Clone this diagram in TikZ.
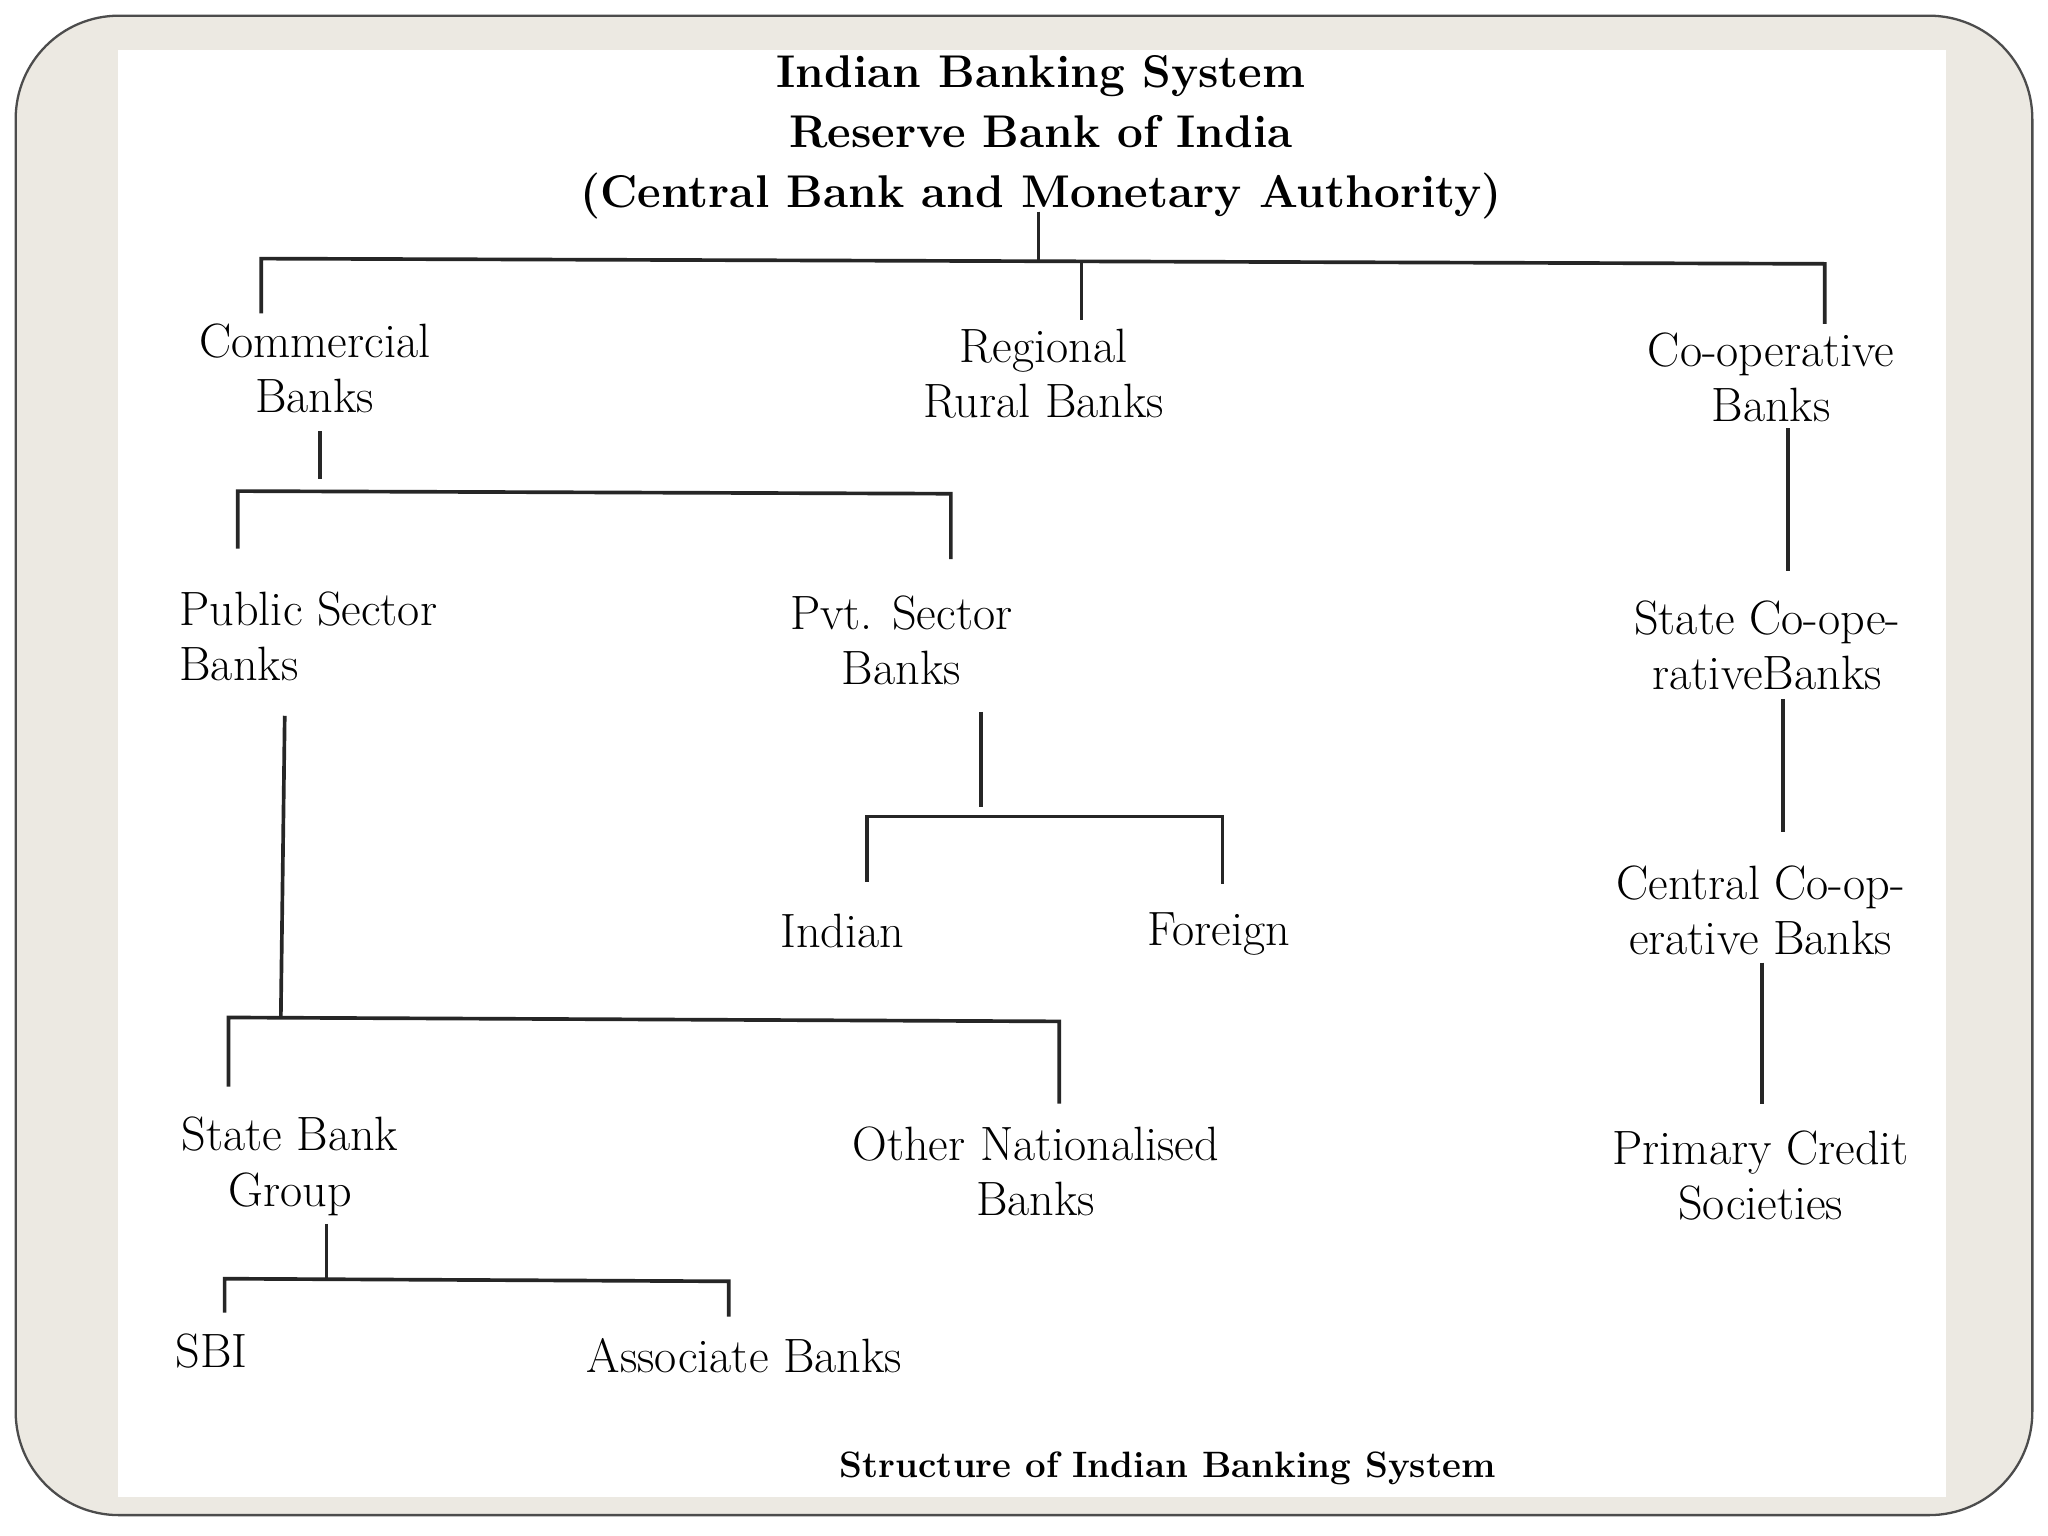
\documentclass[tikz,border=0pt]{standalone}
\begin{document}
\begin{tikzpicture}[x=0.02cm,y=-0.02cm,
  t/.style={font=\fontsize{21}{24}\selectfont,align=center,inner sep=0pt},
  ln/.style={line width=1.6pt,black!85}]
\useasboundingbox (0,0) rectangle (1568,1176);
\fill[white] (0,0) rectangle (1568,1176);
\draw[fill={rgb,255:red,236;green,233;blue,226},draw=black!70,line width=1pt,rounded corners=45] (12,12) rectangle (1556,1160);
\fill[white] (90,38) rectangle (1490,1146);
\node[t,font=\fontsize{20}{20}\bfseries\selectfont] (title) at (797,105) {Indian Banking System\\[6pt]Reserve Bank of India\\[6pt](Central Bank and Monetary Authority)};
\node[t] (cb) at (241,282) {Commercial\\Banks};
\node[t] (rrb) at (799,286) {Regional\\Rural Banks};
\node[t] (cob) at (1356,289) {Co-operative\\Banks};
\node[t,align=left,anchor=west] (psb) at (137,487) {Public Sector\\Banks};
\node[t] (pvt) at (690,490) {Pvt. Sector\\Banks};
\node[t] (ind) at (645,713) {Indian};
\node[t] (for) at (933,715) {Foreign};
\node[t] (sbg) at (222,893) {State Bank\\Group};
\node[t] (onb) at (793,897) {Other Nationalised\\Banks};
\node[t] (sbi) at (162,1034) {SBI};
\node[t] (ab) at (570,1038) {Associate Banks};
\node[t] (scb) at (1353,494) {State Co-ope-\\rativeBanks};
\node[t] (ccb) at (1348,697) {Central Co-op-\\erative Banks};
\node[t] (pcs) at (1348,900) {Primary Credit\\Societies};
\node[inner sep=0pt,font=\fontsize{16}{16}\bfseries\scshape\selectfont] (cap) at (894,1124) {Structure of Indian Banking System};
\coordinate (j1) at (795,200);
\draw[ln] (795,162) -- (j1);
\draw[ln] (200,240) -- (200,198) -- (1397,202) -- (1397,248);
\draw[ln] (828,200) -- (828,245);
\draw[ln] (245,330) -- (245,367);
\draw[ln] (182,420) -- (182,376) -- (728,378) -- (728,428);
\draw[ln] (218,548) -- (215,780);
\draw[ln] (175,832) -- (175,779) -- (811,782) -- (811,845);
\draw[ln] (751,545) -- (751,618);
\draw[ln] (664,675) -- (664,625) -- (936,625) -- (936,677);
\draw[ln] (250,937) -- (250,979);
\draw[ln] (172,1005) -- (172,979) -- (558,981) -- (558,1008);
\draw[ln] (1369,328) -- (1369,437);
\draw[ln] (1365,535) -- (1365,637);
\draw[ln] (1349,737) -- (1349,845);
\end{tikzpicture}
\end{document}
